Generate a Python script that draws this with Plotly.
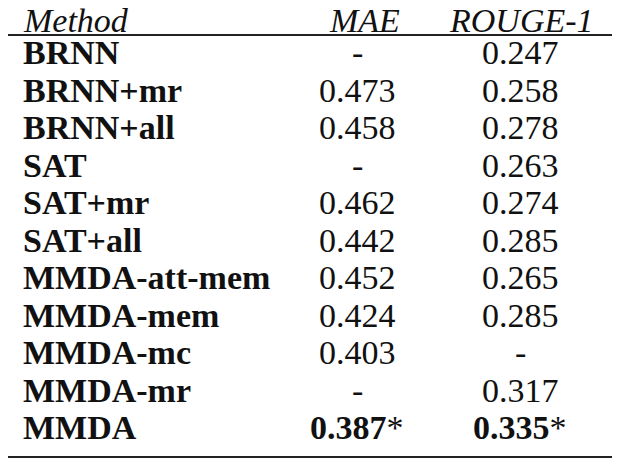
import plotly.graph_objects as go

# ---- data ----
headers = ["Method", "MAE", "ROUGE-1"]
methods = ["BRNN", "BRNN+mr", "BRNN+all", "SAT", "SAT+mr", "SAT+all",
           "MMDA-att-mem", "MMDA-mem", "MMDA-mc", "MMDA-mr", "MMDA"]
mae = [None, 0.473, 0.458, None, 0.462, 0.442, 0.452, 0.424, 0.403, None, 0.387]
rouge = [0.247, 0.258, 0.278, 0.263, 0.274, 0.285, 0.265, 0.285, None, 0.317, 0.335]
best_row = "MMDA"          # row shown in bold with significance mark
sig_mark = "*"

# ---- layout constants (page pixels) ----
PAGE_W, PAGE_H = 620, 461
OFF = 8                     # default body margin of the html page
W, H = PAGE_W - OFF, PAGE_H - OFF
FONT = "Liberation Serif, Tinos, FreeSerif, Times New Roman, serif"
FS = 34
COL_X = {"Method": 21, "MAE": 357, "ROUGE-1": 520}
HEAD_X = {"Method": 21, "MAE": 364, "ROUGE-1": 521}
ROW0_PX = 52.5     # page-pixel centre of first data row
ROW_STEP = 37.5    # pixel step between rows
HEAD_SHIFT = -5    # keep header glyphs inside the figure


def fmt(v, bold):
    if v is None:
        return "-"
    s = f"{v:.3f}"
    return f"<b>{s}</b>{sig_mark}" if bold else s


rows = list(range(len(methods)))
mae_txt = [fmt(v, m == best_row) for v, m in zip(mae, methods)]
rouge_txt = [fmt(v, m == best_row) for v, m in zip(rouge, methods)]
meth_txt = [f"<b>{m}</b>" for m in methods]

fig = go.Figure()
# invisible trace to set up the axes
fig.add_trace(go.Scatter(x=[OFF, PAGE_W], y=[-1, len(rows) - 1], mode="markers",
                         marker=dict(opacity=0), hoverinfo="skip"))


def cell(x, y, text, anchor, yshift=0):
    fig.add_annotation(x=x, y=y, xref="x", yref="y", text=text, showarrow=False,
                       xanchor=anchor, yanchor="middle", yshift=yshift,
                       font=dict(family=FONT, size=FS, color="#111111"))


# header row (row index -1)
cell(HEAD_X["Method"], -1, f"<i>{headers[0]}</i>", "left", HEAD_SHIFT)
cell(HEAD_X["MAE"], -1, f"<i>{headers[1]}</i>", "center", HEAD_SHIFT)
cell(HEAD_X["ROUGE-1"], -1, f"<i>{headers[2]}</i>", "center", HEAD_SHIFT)
# body
for r, mt, at, rt in zip(rows, meth_txt, mae_txt, rouge_txt):
    cell(COL_X["Method"], r, mt, "left")
    cell(COL_X["MAE"], r, at, "center")
    cell(COL_X["ROUGE-1"], r, rt, "center")

y_top = (OFF - ROW0_PX) / ROW_STEP
y_bot = (PAGE_H - ROW0_PX) / ROW_STEP

for ypx in (35, 457):
    yp = 1 - (ypx - OFF) / H
    fig.add_shape(type="line", xref="paper", yref="paper",
                  x0=0, x1=(618 - OFF) / W, y0=yp, y1=yp,
                  line=dict(color="#222222", width=2))

fig.update_layout(
    width=W, height=H, margin=dict(l=0, r=0, t=0, b=0),
    font=dict(family=FONT, size=FS, color="#111111"),
    paper_bgcolor="white", plot_bgcolor="white", showlegend=False,
    xaxis=dict(range=[OFF, PAGE_W], visible=False),
    yaxis=dict(range=[y_bot, y_top], visible=False),
)

fig.write_html("out.html")
